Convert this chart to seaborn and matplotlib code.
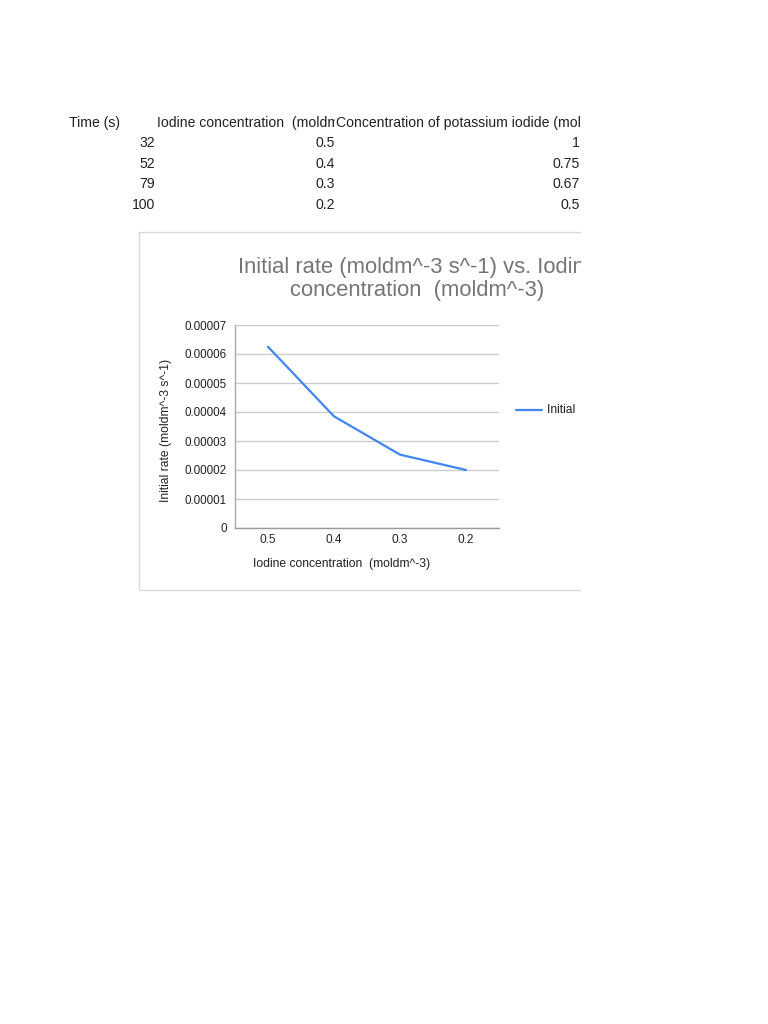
import matplotlib
matplotlib.use("Agg")
import matplotlib.pyplot as plt
import seaborn as sns
import pandas as pd
from matplotlib.transforms import Bbox, TransformedBbox
from matplotlib.patches import Rectangle
from matplotlib.lines import Line2D

time_s = [32, 52, 79, 100]
iodine = [0.5, 0.4, 0.3, 0.2]
ki_conc = ["1", "0.75", "0.67", "0.5"]
rate = [0.0000625, 0.0000385, 0.0000253, 0.00002]
y_ticks = [0, 0.00001, 0.00002, 0.00003, 0.00004, 0.00005, 0.00006, 0.00007]
y_tick_labels = ["0", "0.00001", "0.00002", "0.00003", "0.00004", "0.00005", "0.00006", "0.00007"]

sns.set_style("white")
plt.rcParams["font.family"] = ["Liberation Sans", "DejaVu Sans"]

W, H = 768, 1024
fig = plt.figure(figsize=(W / 100, H / 100), dpi=100)

def fx(px):
    return px / W

def fy(py):
    return 1 - py / H

def clipbox(x1):
    return TransformedBbox(Bbox.from_extents(0, 0, fx(x1), 1), fig.transFigure)

txt = "#222222"
fs = 10.1
# Table
fig.text(fx(69), fy(123), "Time (s)", fontsize=fs, color=txt, va="center", ha="left")
fig.text(fx(157), fy(123), "Iodine concentration  (moldm^-3)", fontsize=fs, color=txt,
         va="center", ha="left", clip_on=True, clip_box=clipbox(335))
fig.text(fx(336), fy(123), "Concentration of potassium iodide (moldm^-3)", fontsize=fs, color=txt,
         va="center", ha="left", clip_on=True, clip_box=clipbox(581))
rows_y = [143, 164, 184, 205]
for ty, t, c, k in zip(rows_y, time_s, iodine, ki_conc):
    fig.text(fx(155), fy(ty), str(t), fontsize=fs, color=txt, va="center", ha="right")
    fig.text(fx(335), fy(ty), str(c), fontsize=fs, color=txt, va="center", ha="right")
    fig.text(fx(580), fy(ty), k, fontsize=fs, color=txt, va="center", ha="right")

# Chart frame
frame = Rectangle((fx(139), fy(590)), fx(696) - fx(139), fy(232) - fy(590),
                  transform=fig.transFigure, fill=False, edgecolor="#d9d9d9", lw=1.0,
                  clip_on=True)
frame.set_clip_box(clipbox(581))
fig.add_artist(frame)

# Title
fig.text(fx(417), fy(279), "Initial rate (moldm^-3 s^-1) vs. Iodine\nconcentration  (moldm^-3)",
         fontsize=15.8, color="#757575", ha="center", va="center", linespacing=1.1,
         clip_on=True, clip_box=clipbox(581))

# Axes
ax = fig.add_axes([fx(235), fy(528), fx(499) - fx(235), fy(325) - fy(528)])
df = pd.DataFrame({"x": [str(v) for v in iodine], "y": rate})
sns.lineplot(data=df, x="x", y="y", ax=ax, color="#4285F4", lw=1.6, sort=False)
ax.set_xlim(-0.5, len(iodine) - 0.5)
ax.set_ylim(0, 0.00007)
ax.set_yticks(y_ticks)
ax.set_yticklabels(y_tick_labels)
ax.grid(axis="y", color="#cccccc", lw=1.0)
ax.set_axisbelow(True)
for s in ["top", "right"]:
    ax.spines[s].set_visible(False)
ax.spines["left"].set_color("#aaaaaa")
ax.spines["bottom"].set_color("#999999")
ax.spines["left"].set_linewidth(1.0)
ax.spines["bottom"].set_linewidth(1.0)
ax.tick_params(axis="y", length=4, color="#cccccc", labelsize=8.4, labelcolor=txt, pad=2)
ax.tick_params(axis="x", length=0, labelsize=8.6, labelcolor=txt, pad=4)
ax.set_xlabel("")
ax.set_ylabel("")
fig.text(fx(342), fy(564), "Iodine concentration  (moldm^-3)", fontsize=8.7, color=txt,
         ha="center", va="center")
fig.text(fx(166), fy(430), "Initial rate (moldm^-3 s^-1)", fontsize=8.7, color=txt,
         ha="center", va="center", rotation=90)

# Legend
fig.add_artist(Line2D([fx(516), fx(542)], [fy(410), fy(410)], transform=fig.transFigure,
                      color="#4285F4", lw=1.6))
fig.text(fx(547), fy(410), "Initial rate (moldm^-3 s^-1)", fontsize=8.7, color=txt,
         ha="left", va="center", clip_on=True, clip_box=clipbox(579))

fig.savefig("out.png", dpi=100)
